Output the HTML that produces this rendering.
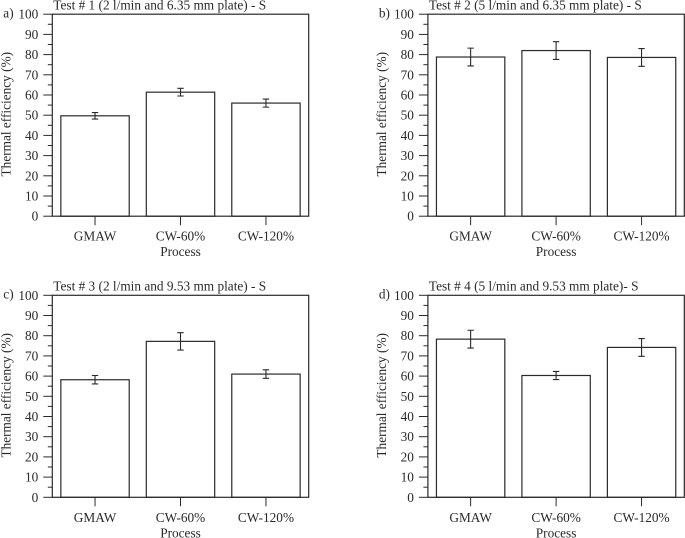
<!DOCTYPE html>
<html lang="en">
<head>
<meta charset="utf-8">
<title>Thermal efficiency by process</title>
<style>
html,body{margin:0;padding:0;background:#fff;}
body{width:685px;height:538px;overflow:hidden;}
svg{display:block;}
text{font-family:"Liberation Serif",serif;fill:#2a2a2a;font-size:13.3px;}
</style>
</head>
<body>
<svg id="figure" width="685" height="538" viewBox="0 0 685 538" xmlns="http://www.w3.org/2000/svg"></svg>
<script>
const categories = ['GMAW', 'CW-60%', 'CW-120%'];
const tickLabels = [0, 10, 20, 30, 40, 50, 60, 70, 80, 90, 100];
const panelLetters = ['a)', 'b)', 'c)', 'd)'];
const panelTitles = [
  'Test # 1 (2 l/min and 6.35 mm plate) - S',
  'Test # 2 (5 l/min and 6.35 mm plate) - S',
  'Test # 3 (2 l/min and 9.53 mm plate) - S',
  'Test # 4 (5 l/min and 9.53 mm plate)- S'
];
const test1Values = [49.7, 61.4, 56];
const test1Errors = [1.6, 1.9, 2];
const test2Values = [78.8, 82, 78.6];
const test2Errors = [4.4, 4.4, 4.4];
const test3Values = [58.2, 77.2, 61];
const test3Errors = [2.1, 4.3, 2.1];
const test4Values = [78.3, 60.3, 74.2];
const test4Errors = [4.4, 2, 4.4];
const allValues = [test1Values, test2Values, test3Values, test4Values];
const allErrors = [test1Errors, test2Errors, test3Errors, test4Errors];

const svg = document.getElementById('figure');
const NS = 'http://www.w3.org/2000/svg';
const STROKE = '#2a2a2a';

function add(parent, tag, attrs, text) {
  const el = document.createElementNS(NS, tag);
  for (const k in attrs) el.setAttribute(k, attrs[k]);
  if (text !== undefined) el.textContent = text;
  parent.appendChild(el);
  return el;
}

function drawPanel(index, left, top) {
  const width = 256.4, height = 202;
  const right = left + width, bottom = top + height;
  const yScale = v => bottom - (v / 100) * height;
  const band = width / categories.length;
  const xCenter = i => left + band * (i + 0.5);
  const barWidth = band * 0.8;
  const letter = panelLetters[index].charAt(0);

  const g = add(svg, 'g', {});
  
  

  // y-axis ticks and labels
  for (let i = 0; i <= 20; i++) {
    const major = i % 2 === 0;
    const v = i * 5;
    const y = yScale(v);
    const tick = add(g, 'line', {x1: left - (major ? 9 : 4.5), x2: left, y1: y, y2: y, stroke: STROKE, 'stroke-width': 1});
    
    
  }
  tickLabels.forEach(v => {
    const label = add(g, 'text', {x: left - 14, y: yScale(v) + 4.5, 'text-anchor': 'end'}, String(v));
    
    
  });

  // bars, error bars, x ticks, category labels
  categories.forEach((cat, i) => {
    const cx = xCenter(i);
    const val = allValues[index][i];
    const err = allErrors[index][i];
    const bar = add(g, 'rect', {x: cx - barWidth / 2, y: yScale(val), width: barWidth, height: bottom - yScale(val), fill: '#fff', stroke: STROKE, 'stroke-width': 1.2});
    
    

    const eb = add(g, 'path', {
      d: 'M' + cx + ' ' + yScale(val + err) + 'V' + yScale(val - err) +
         'M' + (cx - 3.2) + ' ' + yScale(val + err) + 'h6.4' +
         'M' + (cx - 3.2) + ' ' + yScale(val - err) + 'h6.4',
      fill: 'none', stroke: STROKE, 'stroke-width': 1.1
    });
    
    

    const xt = add(g, 'line', {x1: cx, x2: cx, y1: bottom, y2: bottom + 9, stroke: STROKE, 'stroke-width': 1});
    
    

    const xl = add(g, 'text', {x: cx, y: bottom + 24.5, 'text-anchor': 'middle'}, cat);
    
    
  });

  // plot frame
  const frame = add(g, 'rect', {x: left, y: top, width: width, height: height, fill: 'none', stroke: STROKE, 'stroke-width': 1.2});
  
  

  // titles
  const title = add(g, 'text', {x: left + 1, y: top - 4.7}, panelTitles[index]);
  
  

  const pl = add(g, 'text', {x: left - 49, y: top + 3.2}, panelLetters[index]);
  
  

  const xTitle = add(g, 'text', {x: left + width / 2, y: bottom + 40, 'text-anchor': 'middle'}, 'Process');
  
  

  const yx = left - 42, yy = top + height / 2 - 1;
  const yTitle = add(g, 'text', {x: yx, y: yy, 'text-anchor': 'middle', transform: 'rotate(-90 ' + yx + ' ' + yy + ')'}, 'Thermal efficiency (%)');
  
  
}

drawPanel(0, 52.3, 14.2);
drawPanel(1, 427.9, 14.2);
drawPanel(2, 52.3, 295.3);
drawPanel(3, 427.9, 295.3);
</script>
</body>
</html>
